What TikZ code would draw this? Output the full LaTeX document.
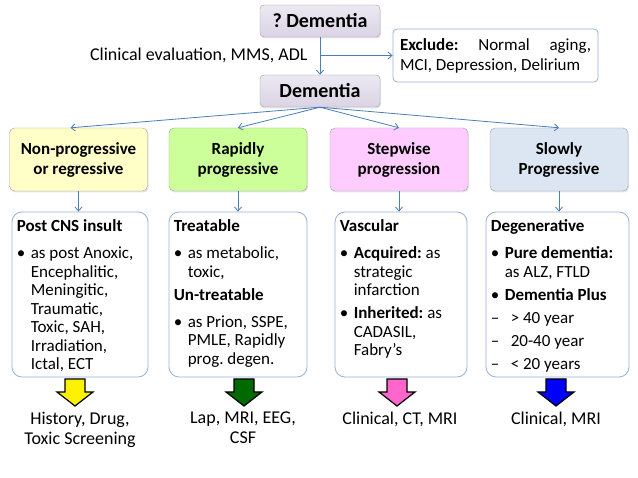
\documentclass[tikz,border=0pt]{standalone}
\usepackage{fontspec}
\setmainfont{Carlito}
\usetikzlibrary{arrows.meta,shadows}
\definecolor{cline}{HTML}{4A7EBB}
\definecolor{cgray}{HTML}{A0A0A0}
\definecolor{ctop}{HTML}{DAD3E4}
\definecolor{cyel}{HTML}{FFFFC8}
\definecolor{cgrn}{HTML}{CCFF99}
\definecolor{cpnk}{HTML}{FFCCFF}
\definecolor{cblu}{HTML}{DCE6F2}
\definecolor{cbox}{HTML}{95B3D7}
\definecolor{cdgrn}{HTML}{006A00}
\definecolor{cpink}{HTML}{FF66CC}
\newcommand{\hd}[1]{\noindent\textbf{#1}\par\vspace{4pt}}
\newcommand{\bul}[1]{\par{\leftskip=14pt\noindent\llap{\makebox[14pt][l]{\textbullet}}#1\par}}
\newcommand{\dsh}[1]{\par{\leftskip=20pt\noindent\llap{\makebox[20pt][l]{\textendash}}#1\par}}
\frenchspacing

\begin{document}
\begin{tikzpicture}[x=1pt,y=-1pt,
    font=\fontsize{17}{18.5}\selectfont, >={Straight Barb[length=4pt,width=7pt]},
    soft/.style={drop shadow={opacity=0.2,shadow xshift=1pt,shadow yshift=-1.5pt}},
    title/.style={rectangle,draw=cgray,top color=ctop!50,bottom color=ctop,rounded corners=4pt,soft,
                  minimum width=120pt,minimum height=32pt,font=\fontsize{20}{24}\selectfont\bfseries},
    kind/.style={rectangle,draw=cgray,rounded corners=5pt,minimum width=138pt,minimum height=63pt,soft,
                 align=center,font=\fontsize{17}{20}\selectfont\bfseries},
    panel/.style={rectangle,draw=cbox,thick,rounded corners=10pt,minimum height=165pt},
    body/.style={anchor=north west,inner sep=0pt,text width=#1,align=flush left,
                 execute at begin node=\setlength{\parskip}{4.5pt}},
    test/.style={anchor=north,inner sep=0pt,align=center,font=\fontsize{18}{20}\selectfont},
    flow/.style={->,cline,line width=0.8pt},
    blk/.style={draw=black,line width=1.2pt,line join=miter}]

  \path[use as bounding box,fill=white] (0,0) rectangle (638,478);

  \node[title] (qd)  at (320,21) {? Dementia};
  \node[title] (dem) at (320,91) {Dementia};
  \node[rectangle,draw=cbox,thick,rounded corners=4pt,text width=191pt,inner xsep=7pt,
        minimum height=53pt,align=justify,font=\fontsize{17}{20}\selectfont]
       (ex) at (495.5,55.5) {\textbf{Exclude:} Normal aging,\linebreak MCI, Depression, Delirium};
  \coordinate (br) at (qd.south |- ex.west);
  \node[anchor=east,font=\fontsize{18}{20}\selectfont] (clin) at ([xshift=-9pt]br)
       {Clinical evaluation, MMS, ADL};

  \draw[flow] (qd) -- (dem);
  \draw[flow] (br) -- (ex.west);

  \node[kind,fill=cyel] (np) at (78.5,159.5) {Non-progressive\\or regressive};
  \node[kind,fill=cgrn] (rp) at (238,159.5)  {Rapidly\\progressive};
  \node[kind,fill=cpnk] (sp) at (399,159.5)  {Stepwise\\progression};
  \node[kind,fill=cblu] (sl) at (559,159.5)  {Slowly\\Progressive};

  \draw[flow] (dem.south) -- ([xshift=-8pt]np.north);
  \foreach \k in {rp,sp,sl}
    \draw[flow] (dem.south) -- (\k.north);

  \node[panel,minimum width=136pt] (p1) at (80,294.5)    {};
  \node[panel,minimum width=138pt] (p2) at (238,294.5)   {};
  \node[panel,minimum width=132pt] (p3) at (401,294.5)   {};
  \node[panel,minimum width=143pt] (p4) at (557.5,294.5) {};

  \draw[flow] (np.south) -- (np.south |- p1.north);
  \draw[flow] (rp.south) -- (rp.south |- p2.north);
  \draw[flow] (sp.south) -- (sp.south |- p3.north);
  \draw[flow] (sl.south) -- (sl.south |- p4.north);

  \node[body=126pt] (b1) at ([xshift=5pt,yshift=-8pt]p1.north west)
    {\hd{Post CNS insult}\bul{as post Anoxic,\newline Encephalitic,\newline Meningitic,\newline
     Traumatic,\newline Toxic, SAH,\newline Irradiation,\newline Ictal, ECT}};
  \node[body=128pt] (b2) at ([xshift=5pt,yshift=-8pt]p2.north west)
    {\hd{Treatable}\bul{as metabolic,\newline toxic,}\hd{Un-treatable}\bul{as Prion, SSPE,\newline
     PMLE, Rapidly\newline prog. degen.}};
  \node[body=122pt] (b3) at ([xshift=5pt,yshift=-8pt]p3.north west)
    {\hd{Vascular}\bul{\textbf{Acquired:} as\newline strategic\newline infarction}\bul{\textbf{Inherited:}
     as\newline CADASIL,\newline Fabry’s}};
  \node[body=133pt] (b4) at ([xshift=5pt,yshift=-8pt]p4.north west)
    {\hd{Degenerative}\bul{\textbf{Pure dementia:}\newline as ALZ, FTLD}\bul{\textbf{Dementia Plus}}%
     \dsh{> 40 year}\dsh{20-40 year}\dsh{< 20 years}};

  \foreach \x/\c in {75/yellow,244/cdgrn,397/cpink,556/blue}
    \draw[blk,fill=\c] (\x-10,379) -- (\x+10,379) -- (\x+10,392) -- (\x+18,392)
      -- (\x,406) -- (\x-18,392) -- (\x-10,392) -- cycle;

  \node[test] (t1) at (80,412)  {History, Drug,\\Toxic Screening};
  \node[test] (t2) at (243,412) {Lap, MRI, EEG,\\CSF};
  \node[test] (t3) at (400,412) {Clinical, CT, MRI};
  \node[test] (t4) at (556,412) {Clinical, MRI};
\end{tikzpicture}
\end{document}
